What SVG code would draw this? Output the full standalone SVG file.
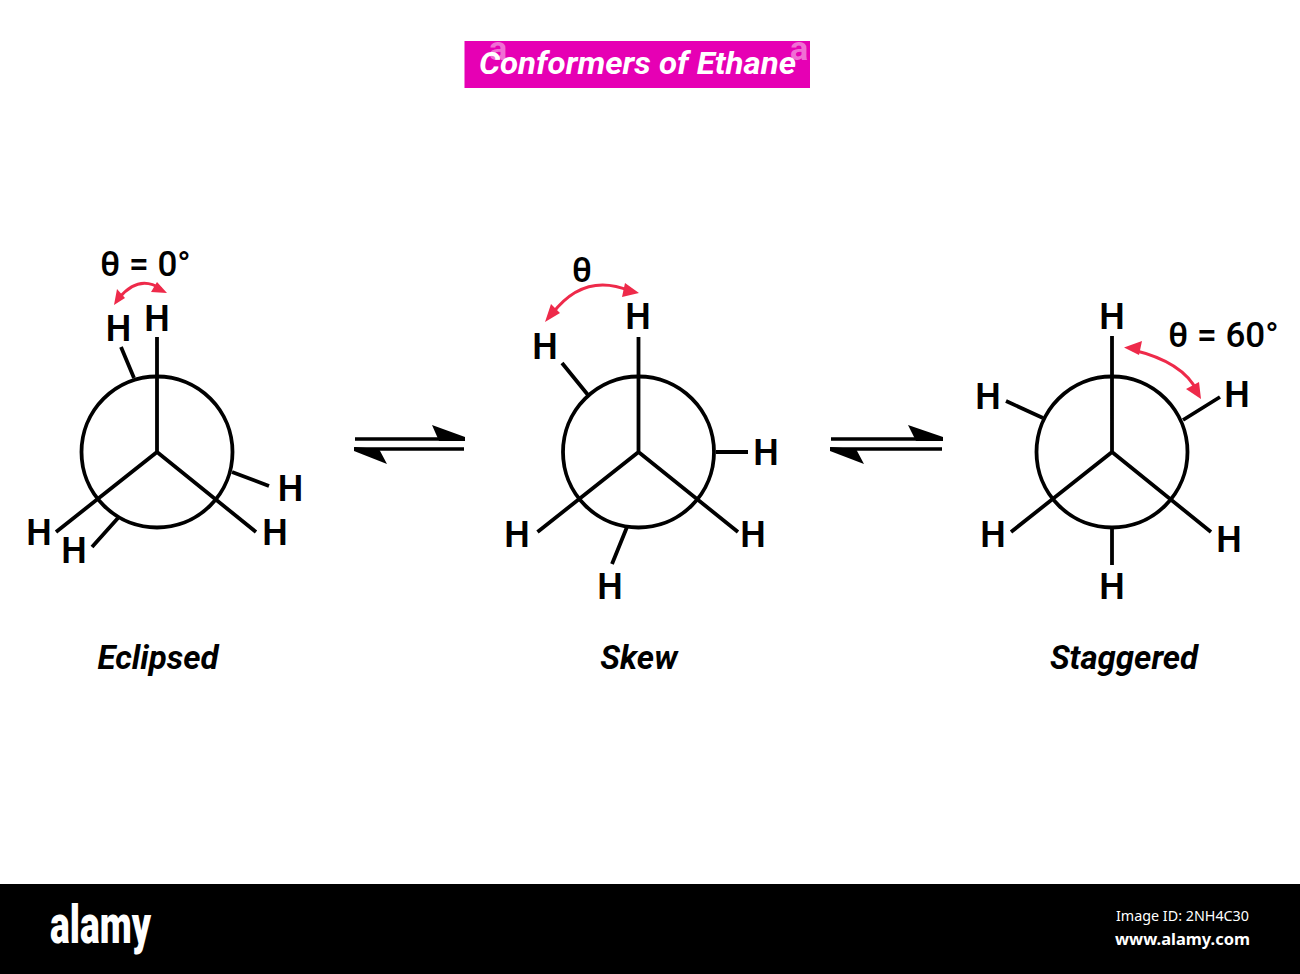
<svg xmlns="http://www.w3.org/2000/svg" width="1300" height="974" viewBox="0 0 1300 974">
<style>
.bond{stroke:#000;stroke-width:3.800;fill:none;stroke-linecap:butt}
.ring{stroke:#000;stroke-width:3.800;fill:#fff}
.h{font:600 36px Roboto,sans-serif;fill:#000;text-anchor:middle}
.ang{font:500 35px Roboto,sans-serif;fill:#000}
.name{font:italic 700 33px Roboto,sans-serif;fill:#000;text-anchor:middle}
.red{stroke:#ee2a4a;stroke-width:3;fill:none}
.redh{fill:#ee2a4a}
.eq{stroke:#000;stroke-width:3.600;fill:none}
</style>
<defs><clipPath id="tc"><rect x="464.500" y="41" width="345.500" height="47"/></clipPath></defs>
<rect width="1300" height="974" fill="#fff"/>
<g id="title">
<rect x="464.500" y="41" width="345.500" height="47" fill="#e600b4"/>
<g clip-path="url(#tc)" font-family="Roboto,sans-serif" font-weight="700" font-size="34" fill="#fff" fill-opacity=".45">
<text x="489" y="60">a</text><text x="790" y="60">a</text></g>
<text x="479" y="74" font-family="Roboto,sans-serif" font-style="italic" font-weight="700" font-size="32" fill="#fff" textLength="317" lengthAdjust="spacingAndGlyphs">Conformers of Ethane</text>
</g>
<g id="connectors">
<path class="eq" d="M355 439H464M355 449H464"/>
<path d="M432 425L465 437V441H439Z"/><path d="M354 447V451L387 464L379 449Z"/>
<path class="eq" d="M831 439H942M831 449H942"/>
<path d="M908 425L943 437V441H916Z"/><path d="M830 447V451L864 464L856 449Z"/>
</g>
<g id="eclipsed">
<circle class="ring" cx="157" cy="452" r="75.500"/>
<path class="bond" d="M157 337V452L56 532M157 452L256 532M121 347L134 378M232 472L269 486M118 518L92 547"/>
<text class="h" x="118.500" y="341">H</text><text class="h" x="157" y="331">H</text><text class="h" x="290.500" y="501">H</text><text class="h" x="275" y="545">H</text><text class="h" x="39" y="545">H</text><text class="h" x="74" y="563">H</text>
<text class="ang" x="100" y="276">θ = 0°</text>
<path class="red" d="M119 298Q139 274 161 289"/>
<path class="redh" d="M114 305L117 289L125 298ZM167 293L151 292L157 282Z"/>
<text class="name" x="158" y="669">Eclipsed</text>
</g>
<g id="skew">
<circle class="ring" cx="638.500" cy="452" r="75.500"/>
<path class="bond" d="M638.500 337V452L537.500 532M638.500 452L738 532M562 363L588 395M716 452H748M627 527L612 564"/>
<text class="h" x="545" y="359">H</text><text class="h" x="638" y="329">H</text><text class="h" x="766" y="465">H</text><text class="h" x="753" y="547">H</text><text class="h" x="517" y="547">H</text><text class="h" x="610" y="599">H</text>
<text class="ang" x="582" y="282" text-anchor="middle">θ</text>
<path class="red" d="M552 314Q584 272 630 291"/>
<path class="redh" d="M545 322L551 304L560 313ZM639 293L622 297L625 283Z"/>
<text class="name" x="639" y="669">Skew</text>
</g>
<g id="staggered">
<circle class="ring" cx="1112" cy="452" r="75.500"/>
<path class="bond" d="M1112 336V452L1011 532M1112 452L1211 532M1006 401L1043 418M1183 420L1220 397M1112 528V565"/>
<text class="h" x="1112" y="329">H</text><text class="h" x="988" y="409">H</text><text class="h" x="1237" y="407">H</text><text class="h" x="993" y="547">H</text><text class="h" x="1229" y="552">H</text><text class="h" x="1112" y="599">H</text>
<text class="ang" x="1168" y="347">θ = 60°</text>
<path class="red" d="M1133 350Q1183 362 1197 391"/>
<path class="redh" d="M1124 347.500L1142 341L1139 355ZM1201 399L1186 389L1199 382Z"/>
<text class="name" x="1124" y="669">Staggered</text>
</g>
<g id="footer">
<rect y="884" width="1300" height="90" fill="#000"/>
<text x="50" y="943" font-family="Roboto,sans-serif" font-weight="900" font-size="54" fill="#fff" textLength="101" lengthAdjust="spacingAndGlyphs">alamy</text>
<text x="1116" y="921" font-family="'Noto Sans',sans-serif" font-size="15" fill="#fff" textLength="133" lengthAdjust="spacingAndGlyphs">Image ID: 2NH4C30</text>
<text x="1115" y="945" font-family="'Noto Sans',sans-serif" font-weight="700" font-size="16" fill="#fff" textLength="135" lengthAdjust="spacingAndGlyphs">www.alamy.com</text>
</g>
</svg>
